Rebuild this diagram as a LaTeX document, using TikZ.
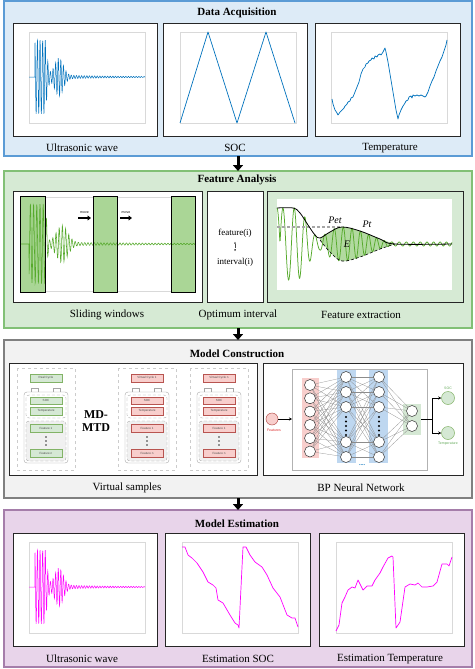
\documentclass[tikz,border=0pt]{standalone}
\usepackage{fontspec}
\setmainfont{Liberation Serif}
\newfontfamily\tinysans{Liberation Sans}
\usetikzlibrary{arrows.meta}

\definecolor{acqfill}{RGB}{221,235,247}
\definecolor{acqline}{RGB}{91,155,213}
\definecolor{featfill}{RGB}{214,234,212}
\definecolor{featline}{RGB}{130,192,118}
\definecolor{consfill}{RGB}{242,242,242}
\definecolor{consline}{RGB}{128,128,128}
\definecolor{estfill}{RGB}{232,212,234}
\definecolor{estline}{RGB}{165,125,170}
\definecolor{plotblue}{RGB}{0,114,189}
\definecolor{wavegreen}{RGB}{86,170,44}
\definecolor{wingreen}{RGB}{170,214,150}
\definecolor{plotpink}{RGB}{255,0,255}
\definecolor{cellgreen}{RGB}{213,232,212}
\definecolor{cellgreenline}{RGB}{130,179,102}
\definecolor{cellpink}{RGB}{248,206,204}
\definecolor{cellpinkline}{RGB}{184,84,80}
\definecolor{bandblue}{RGB}{190,215,240}
\definecolor{nnred}{RGB}{220,40,40}
\definecolor{nngreen}{RGB}{100,170,90}

\tikzset{
  panel/.style 2 args={draw=#1, fill=#2, line width=1.2pt, inner sep=0pt, outer sep=0pt, minimum width=468pt},
  inbox/.style={draw=black!85, line width=0.9pt},
  plotframe/.style={draw=black!15, line width=0.5pt},
  ttl/.style={font=\fontsize{11}{13}\selectfont\bfseries},
  lbl/.style={font=\fontsize{11}{13}\selectfont},
  flow/.style={line width=3pt, -{Triangle[width=10pt,length=6pt]}},
  curve/.style={line width=0.7pt, line join=round},
  cellbox/.style 2 args={fill=#1, draw=#2, line width=0.3pt, minimum width=32pt, minimum height=7.5pt, inner sep=0pt, text=black!70, font=\tinysans\fontsize{3}{3}\selectfont},
  cellout/.style={draw=black!20, dashed, line width=0.3pt},
  celledge/.style={draw=black!35, fill=white, line width=0.4pt},
  cellgrp/.style={draw=black!40, densely dashed, line width=0.3pt, rounded corners=3pt},
  neuron/.style={circle, draw=black!80, fill=white, line width=0.5pt, minimum size=11pt, inner sep=0pt},
  link/.style={draw=black!45, line width=0.25pt},
  nnarrow/.style={line width=0.8pt, -{Stealth[length=3pt,width=3pt]}},
  nnlbl/.style={font=\tinysans\fontsize{3.5}{4}\selectfont},
}

% one battery sample: name, x, y, fill, line, caption
\newcommand{\battcell}[6]{%
  \begin{scope}[shift={(#2,#3)}]
    \draw[cellout] (0,0) rectangle (58,102);
    \node[cellbox={#4}{#5}, minimum height=8pt] (#1-lbl) at (29,10) {#6};
    \draw[celledge] (14,20) rectangle (21,24) (36,20) rectangle (43,24);
    \draw[celledge, rounded corners=3pt] (7,24) rectangle (51,95);
    \draw[cellgrp] (9,27) rectangle (49,50);
    \draw[cellgrp, fill=black!6] (9,53) rectangle (49,93);
    \node[cellbox={#4}{#5}] (#1-soc) at (29,32.5) {SOC};
    \node[cellbox={#4}{#5}] (#1-tmp) at (29,43) {Temperature};
    \node[cellbox={#4}{#5}] (#1-f1) at (29,60) {Feature 1};
    \foreach \d in {69,73,77} \fill[black!80] (29,\d) circle (0.8pt);
    \node[cellbox={#4}{#5}] (#1-fn) at (29,85) {Feature n};
  \end{scope}}

\begin{document}
\begin{tikzpicture}[x=1pt, y=-1pt,
  declare function={
    uamp(\x)=37*(\x>=6)*(\x<17)+(\x>=17)*(22*exp(max(0-((\x-17)/2.5)^2,-9))+17*exp(max(0-((\x-30)/6)^2,-9))+2.5*exp(0-(\x-17)/60));
    swamp(\x)=40*(\x>=9)*(\x<26)+(\x>=26)*(25*exp(max(0-((\x-26)/2)^2,-9))+17*exp(max(0-((\x-42)/8)^2,-9))+1.8*exp(0-(\x-26)/150));
    fwamp(\x)=(\x<296)*36+(\x>=296)*(\x<320)*(6+15*(1+cos(7.5*(\x-296))))+(\x>=320)*(\x<342)*(6+11*sin(4.09*(\x-320)))+(\x>=342)*(\x<395)*(2+7.5*(1+cos(3.396*(\x-342))))+(\x>=395)*2;
  }]
\useasboundingbox (0,0) rectangle (474,669);
\fill[white] (0,0) rectangle (474,669);

% ---------------- Data Acquisition
\node[panel={acqline}{acqfill}, minimum height=155pt] (acq) at (238,78.5) {};
\node[ttl] (acqt) at (237,13) {Data Acquisition};
\draw[inbox, fill=white] (13,23) rectangle (157,136);
\draw[inbox, fill=white] (163,23) rectangle (307,136);
\draw[inbox, fill=white] (315,23) rectangle (460,136);
\draw[plotframe] (29,32) rectangle (145,123);
\draw[plotframe] (180,32) rectangle (296,123);
\draw[plotframe] (331,32) rectangle (447,123);
\draw[plotblue, line width=0.5pt] plot[domain=0:116, samples=600] ({29+\x}, {77-uamp(\x)*sin(360*frac(\x/2.6))});
\draw[curve, plotblue] (180,123) -- (208,32) -- (237,123) -- (266,32) -- (295,123);
\draw[curve, plotblue] plot coordinates {(332,99) (333,104) (335,110) (337,113) (338,115) (340,112) (342,110) (344,108) (345,106) (347,104) (348,102) (350,101) (351,98) (353,97) (355,92) (357,87) (359,82) (361,74) (363,69) (365,67) (366,64) (368,63) (369,61) (371,60) (372,58) (374,59) (375,56) (377,57) (378,55) (380,54) (381,55) (383,52) (384,50) (385,48) (386,52) (388,62) (391,80) (394,98) (396,110) (398,119) (399,115) (401,110) (403,106) (405,103) (406,101) (408,100) (409,97) (411,96) (412,98) (413,95) (415,96) (417,95) (419,96) (421,95) (423,96) (425,97) (426,96) (428,92) (430,86) (432,81) (434,77) (436,71) (438,66) (440,61) (442,57) (444,51) (446,45) (447,40)};
\node[lbl] (acql1) at (82,148) {Ultrasonic wave};
\node[lbl] (acql2) at (235,148) {SOC};
\node[lbl] (acql3) at (390,148) {Temperature};

% ---------------- Feature Analysis
\node[panel={featline}{featfill}, minimum height=157pt] (feat) at (238,249.5) {};
\node[ttl] (featt) at (237,180) {Feature Analysis};
% sliding windows
\draw[inbox, fill=white] (13,191) rectangle (202,302);
\draw[plotframe] (20,197) rectangle (195,291);
\fill[wingreen] (20,196) rectangle (45,292);
\fill[wingreen] (93,196) rectangle (117,292);
\fill[wingreen] (171,196) rectangle (195,292);
\draw[wavegreen, line width=0.55pt] plot[domain=0:175, samples=650] ({20+\x}, {244-swamp(\x)*sin(360*frac(\x/3.2))});
\draw[line width=0.8pt] (20,196) rectangle (45,292);
\draw[line width=0.8pt] (93,196) rectangle (117,292);
\draw[line width=0.8pt] (171,196) rectangle (195,292);
\coordinate (mv1a) at (78,218);
\coordinate (mv1b) at (91,218);
\coordinate (mv2a) at (120,218);
\coordinate (mv2b) at (132,218);
\draw[line width=1.2pt, -{Triangle[width=5pt,length=3.5pt]}] (mv1a) -- node[above=0.5pt, font=\tinysans\fontsize{3.5}{4}\selectfont] (mv1) {move} (mv1b);
\draw[line width=1.2pt, -{Triangle[width=5pt,length=3.5pt]}] (mv2a) -- node[above=0.5pt, font=\tinysans\fontsize{3.5}{4}\selectfont] (mv2) {move} (mv2b);
% optimum interval
\draw[inbox, fill=white] (207,191) rectangle (263,302);
\node[font=\fontsize{9}{10}\selectfont] (fti) at (235,233) {feature(i)};
\node[font=\fontsize{9}{10}\selectfont] (ivi) at (235,262) {interval(i)};
\draw[black!70, line width=0.3pt, densely dotted, {Latex[length=2pt,width=2pt]}-{Latex[length=2pt,width=2pt]}] ([yshift=-1pt]fti.south) -- ([yshift=3pt]ivi.north);
% feature extraction
\fill[white] (277,199) rectangle (452,290);
\fill[wingreen, opacity=0.9] plot[smooth, tension=0.6] coordinates {(320,238) (330,232) (342,227) (360,231) (380,239) (395,244)}
  -- plot[smooth, tension=0.6] coordinates {(395,244) (380,249) (360,257) (342,261) (330,252) (320,240)} -- cycle;
\draw[wavegreen, line width=0.75pt] plot[domain=277:452, samples=500] (\x, {244-fwamp(\x)*sin(360*frac((\x-277)/12+((\x-277)/67.08)^2-0.25))});
\draw[black!35, densely dashed, line width=1.3pt] (277,227) -- (342,227);
\draw[line width=0.8pt] plot[smooth, tension=0.6] coordinates {(277,208) (293,208) (300,213) (308,225) (315,235) (320,238) (330,232) (342,227) (360,231) (380,239) (395,244) (452,244)};
\draw[line width=0.6pt, densely dashed] plot[smooth, tension=0.6] coordinates {(320,240) (330,252) (342,261) (360,257) (380,249) (395,244)};
\node[font=\fontsize{10}{11}\selectfont\itshape] (pet) at (335,220) {Pet};
\node[font=\fontsize{10}{11}\selectfont\itshape] (pt) at (367,224) {Pt};
\node[font=\fontsize{10}{11}\selectfont\itshape] (en) at (347,244) {E};
\draw[inbox] (267,191) rectangle (463,302);
\node[lbl] (featl1) at (107,315) {Sliding windows};
\node[lbl] (featl2) at (238,315) {Optimum interval};
\node[lbl] (featl3) at (361,315) {Feature extraction};

% ---------------- Model Construction
\node[panel={consline}{consfill}, minimum height=158pt] (cons) at (238,419) {};
\node[ttl] (const) at (237,354) {Model Construction};
\draw[inbox, fill=white] (9,363) rectangle (257,475);
\battcell{rc}{17}{368}{cellgreen}{cellgreenline}{Real Cycle}
\battcell{vc}{118}{368}{cellpink}{cellpinkline}{Virtual Cycle 1}
\battcell{vn}{190}{368}{cellpink}{cellpinkline}{Virtual Cycle n}
\node[font=\fontsize{12}{13}\selectfont\bfseries, align=center] (mdmtd) at (96,421) {MD-\\MTD};
% BP network
\draw[inbox, fill=white] (263,363) rectangle (463,475);
\draw[draw=black!30, line width=0.5pt] (292,369) rectangle (427,470);
\node[fill=cellpink, minimum width=17pt, minimum height=80pt, inner sep=0pt] (inbnd) at (310.5,418) {};
\node[fill=bandblue, minimum width=19pt, minimum height=93pt, inner sep=0pt] (habnd) at (346.5,416.5) {};
\node[fill=bandblue, minimum width=19pt, minimum height=93pt, inner sep=0pt] (hbbnd) at (378.5,416.5) {};
\node[fill=cellgreen, minimum width=18pt, minimum height=31pt, inner sep=0pt] (obnd) at (412,419.5) {};
\foreach \i in {1,...,6}
  \node[neuron] (nin\i) at (310,{385+13.3*(\i-1)}) {};
\foreach \i/\y in {1/377,2/392,3/407,4/442,5/457} {
  \node[neuron] (nha\i) at (346,\y) {};
  \node[neuron] (nhb\i) at (379,\y) {};
}
\node[neuron] (nout1) at (412,411) {};
\node[neuron] (nout2) at (412,426) {};
\foreach \i in {1,...,6}
  \foreach \j in {1,...,5}
    \draw[link] (nin\i) -- (nha\j);
\foreach \i in {1,...,5}
  \foreach \j in {1,...,5}
    \draw[link] (nha\i) -- (nhb\j);
\foreach \i in {1,...,5}
  \foreach \j in {1,2}
    \draw[link] (nhb\i) -- (nout\j);
\foreach \d in {417,421.5,426,430.5,435} {
  \fill (346,\d) circle (1.1pt);
  \fill (379,\d) circle (1.1pt);
}
\node[text=plotblue, font=\bfseries\fontsize{6}{6}\selectfont, inner sep=0pt] (more) at (362,465) {....};
\node[neuron, fill=cellpink, draw=cellpinkline, minimum size=12pt] (feats) at (272,419) {};
\node[nnlbl, text=nnred] (featsl) at (274,430) {Features};
\coordinate (nnin) at (292,419);
\draw[nnarrow] (feats) -- (nnin);
\node[neuron, fill=cellgreen, draw=cellgreenline, minimum size=13pt] (socn) at (448,398) {};
\node[neuron, fill=cellgreen, draw=cellgreenline, minimum size=13pt] (tmpn) at (448,433) {};
\node[nnlbl, text=nngreen] (socl) at (448,388) {SOC};
\node[nnlbl, text=nngreen] (tmpl) at (448,444) {Temperature};
\coordinate (brk) at (432,419.5);
\draw[line width=0.8pt] (obnd.east) -- (brk);
\draw[nnarrow] (brk) |- (socn);
\draw[nnarrow] (brk) |- (tmpn);
\node[lbl] (consl1) at (127,488) {Virtual samples};
\node[lbl] (consl2) at (361,488) {BP Neural Network};

% ---------------- Model Estimation
\node[panel={estline}{estfill}, minimum height=157pt] (est) at (238,588.5) {};
\node[ttl] (estt) at (237,524) {Model Estimation};
\draw[inbox, fill=white] (13,533) rectangle (157,646);
\draw[inbox, fill=white] (165,533) rectangle (310,646);
\draw[inbox, fill=white] (319,533) rectangle (464,646);
\draw[plotframe] (29,542) rectangle (145,633);
\draw[plotframe] (182,542) rectangle (298,633);
\draw[plotframe] (336,542) rectangle (452,633);
\draw[plotpink, line width=0.5pt] plot[domain=0:116, samples=600] ({29+\x}, {587-uamp(\x)*sin(360*frac(\x/2.6))});
\draw[curve, plotpink] plot coordinates {(182,547) (185,547) (188,555) (192,558) (197,563) (203,572) (208,582) (213,585) (216,588) (218,600) (223,603) (230,615) (235,623) (238,625) (239,628) (243,547) (246,547) (250,555) (255,562) (262,567) (267,575) (273,588) (280,597) (287,615) (292,618) (295,618) (298,627)};
\draw[curve, plotpink] plot coordinates {(336,631) (339,625) (342,603) (345,597) (348,590) (352,587) (355,588) (358,580) (363,590) (367,586) (372,586) (375,580) (380,573) (383,567) (388,558) (392,556) (393,557) (396,628) (400,622) (405,587) (410,584) (415,585) (418,583) (422,587) (427,587) (433,586) (437,582) (442,564) (447,564) (449,566) (452,557)};
\node[lbl] (estl1) at (82,659) {Ultrasonic wave};
\node[lbl] (estl2) at (238,659) {Estimation SOC};
\node[lbl] (estl3) at (390,659) {Estimation Temperature};

% ---------------- flow between stages
\draw[flow] (acq.south) -- (feat.north);
\draw[flow] (feat.south) -- (cons.north);
\draw[flow] (cons.south) -- (est.north);
\end{tikzpicture}
\end{document}
